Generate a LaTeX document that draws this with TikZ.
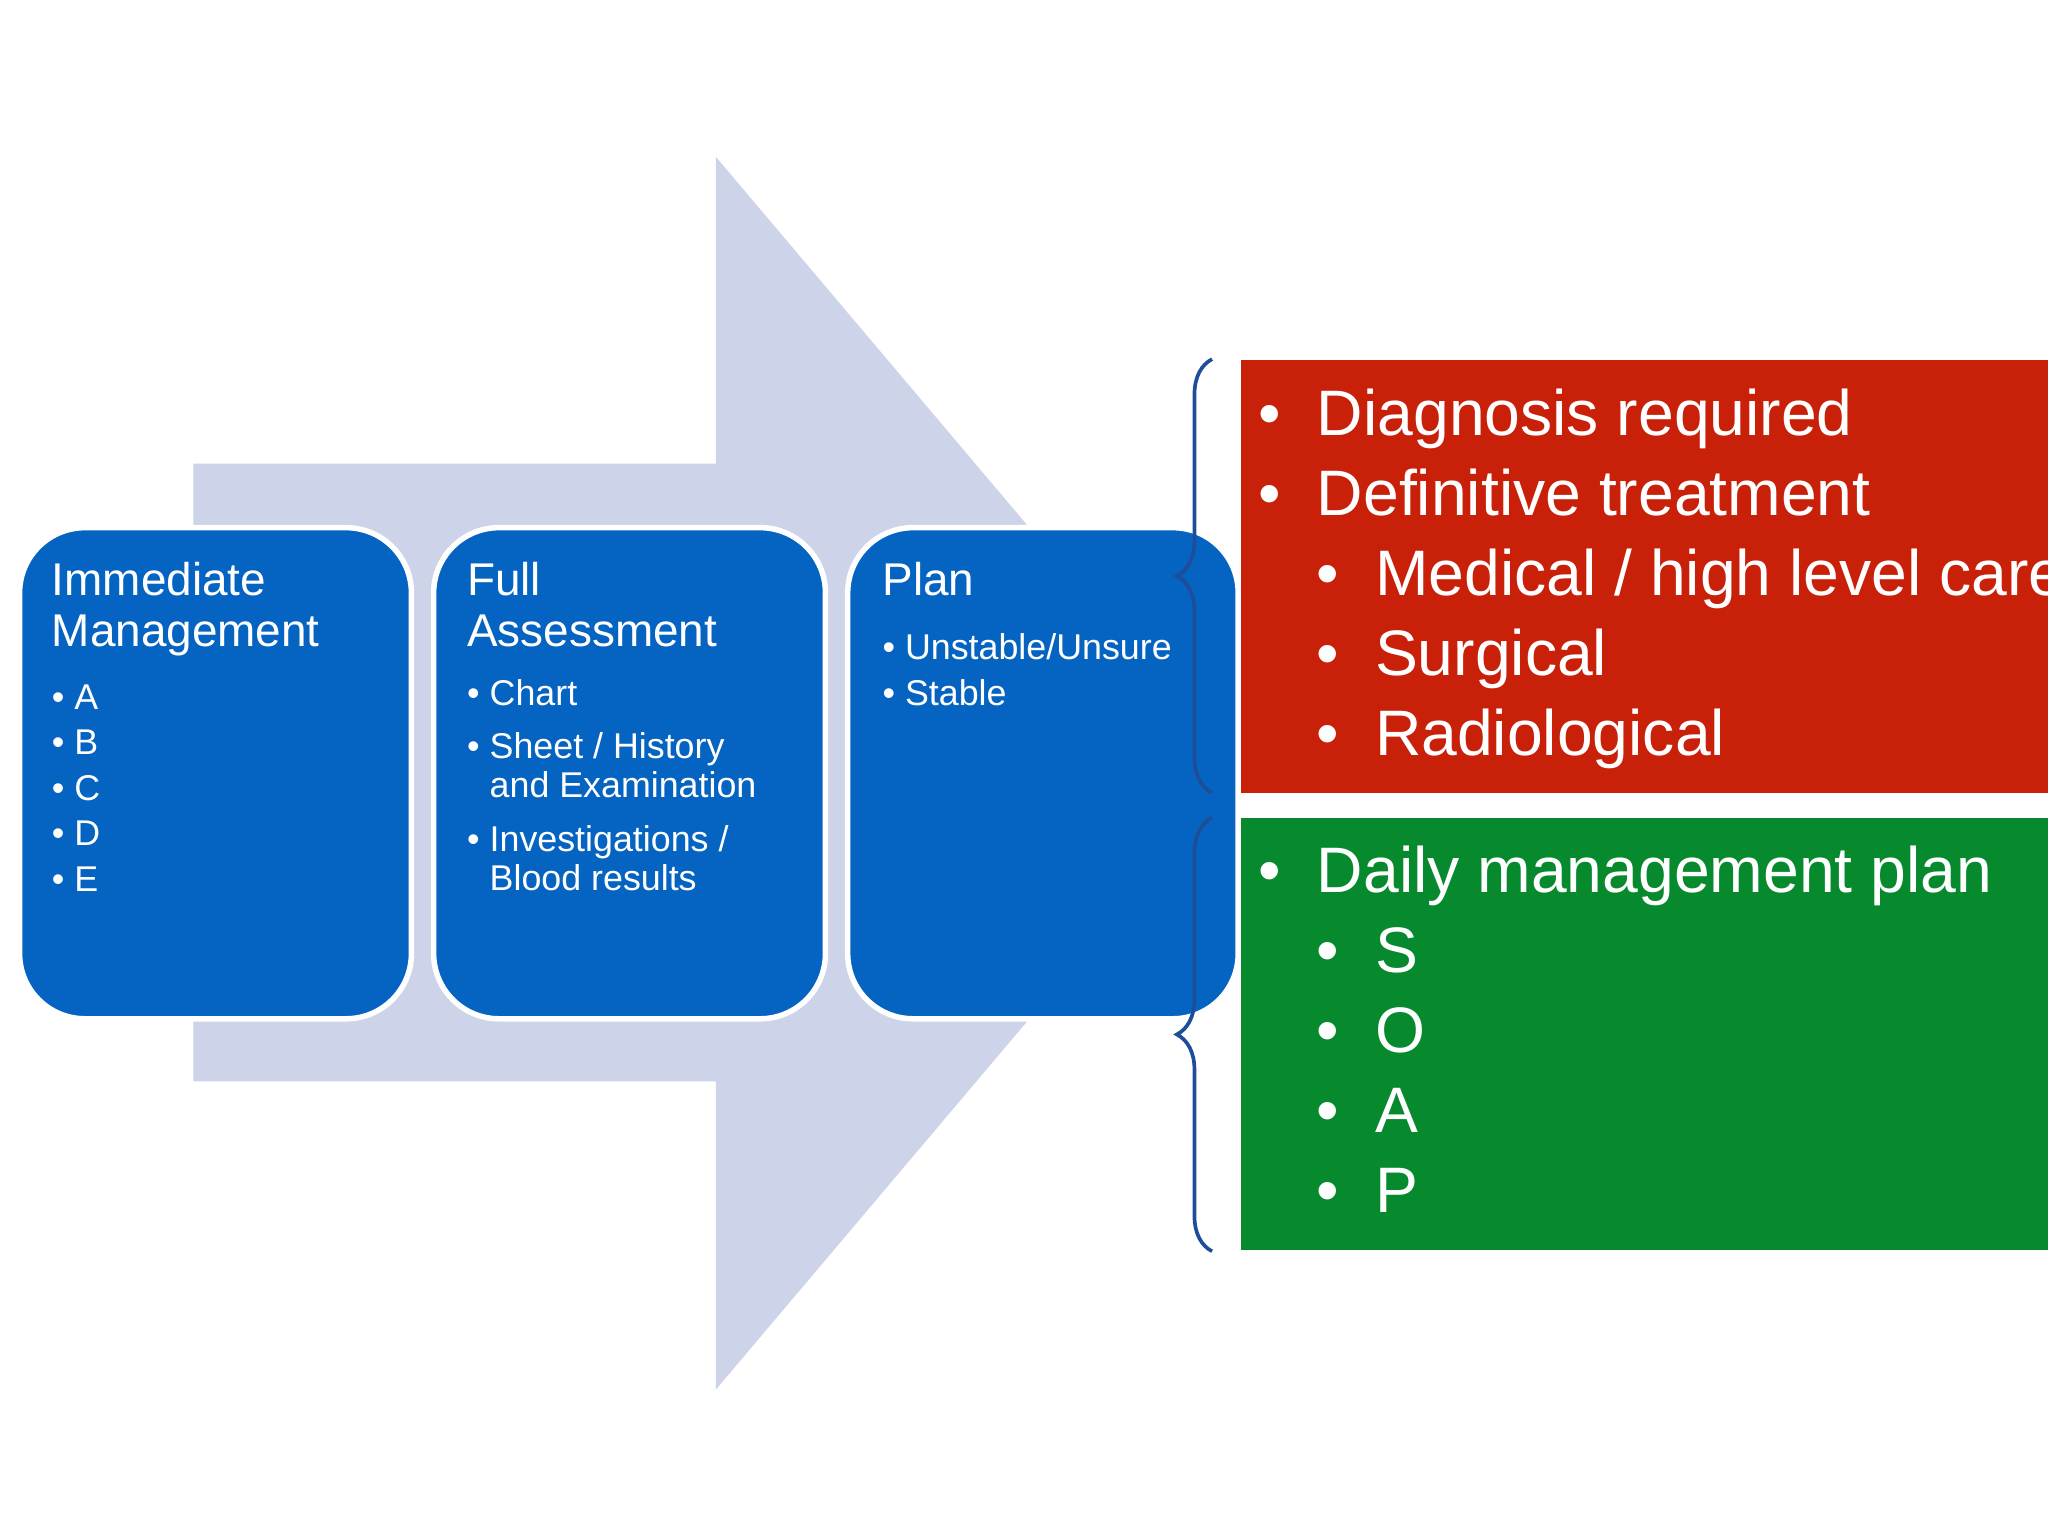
\documentclass[tikz,border=0pt]{standalone}
\usepackage{fontspec}
\setmainfont{Liberation Sans}
\usetikzlibrary{decorations.pathreplacing}
\definecolor{shaftgray}{HTML}{CDD3E8}
\definecolor{stepblue}{HTML}{0563C1}
\definecolor{bracered}{HTML}{C9200A}
\definecolor{bracegreen}{HTML}{078A2E}
\definecolor{bracedark}{HTML}{1F4E99}
\tikzstyle{stepbox}=[draw=white, line width=1.2pt, fill=stepblue, rounded corners=0.5cm]
\tikzstyle{steptitle}=[anchor=north west, inner sep=0pt, text=white, align=left, font=\fontsize{10}{11}\selectfont]
\tikzstyle{steptext}=[anchor=north west, inner sep=0pt, text=white, font=\fontsize{7.8}{9.9}\selectfont]
\tikzstyle{bigtext}=[anchor=north west, inner sep=0pt, text=white, font=\fontsize{14}{17.4}\selectfont]
\tikzstyle{curly}=[draw=bracedark, line width=0.8pt, decorate, decoration={brace, mirror, amplitude=0.27cm, aspect=0.5}]
\begin{document}
\begin{tikzpicture}
 \useasboundingbox (0,0) rectangle (15.68,-11.76);
 % big arrow behind the steps
 \fill[shaftgray] (1.48,-3.55) -- (5.48,-3.55) -- (5.48,-1.2) -- (9.47,-5.92)
  -- (5.48,-10.64) -- (5.48,-8.28) -- (1.48,-8.28) -- cycle;
 %
 \draw[stepbox] (0.15,-4.04) rectangle (3.15,-7.8);
 \draw[stepbox] (3.32,-4.04) rectangle (6.32,-7.8);
 \draw[stepbox] (6.49,-4.04) rectangle (9.48,-7.8);
 %
 \node[steptitle] (immediate) at (0.39,-4.3) {Immediate\\Management};
 \node[steptext] (abcde) at (0.39,-5.18) {\begin{tabular}{@{}l@{\ }l@{}}\textbullet&A\\ \textbullet&B\\ \textbullet&C\\ \textbullet&D\\ \textbullet&E\end{tabular}};
 \node[steptitle] (assessment) at (3.57,-4.3) {Full\\Assessment};
 \node[steptext, font=\fontsize{7.8}{8.6}\selectfont] (items) at (3.57,-5.18) {\begin{tabular}{@{}l@{\ }l@{}}\textbullet&Chart\\[3pt] \textbullet&Sheet / History\\ &and Examination\\[3pt] \textbullet&Investigations /\\ &Blood results\end{tabular}};
 \node[steptitle] (plan) at (6.75,-4.3) {Plan};
 \node[steptext] (stability) at (6.75,-4.8) {\begin{tabular}{@{}l@{\ }l@{}}\textbullet&Unstable/Unsure\\ \textbullet&Stable\end{tabular}};
 %
 \fill[bracered] (9.5,-2.76) rectangle (15.68,-6.07);
 \fill[bracegreen] (9.5,-6.26) rectangle (15.68,-9.57);
 \node[bigtext] (definitive) at (9.63,-2.9) {\begin{tabular}{@{}l@{\ \ }l@{\ \ }l@{}}
  \textbullet&\multicolumn{2}{@{}l}{Diagnosis required}\\
  \textbullet&\multicolumn{2}{@{}l}{Definitive treatment}\\
  &\textbullet&Medical / high level care\\
  &\textbullet&Surgical\\
  &\textbullet&Radiological\end{tabular}};
 \node[bigtext] (daily) at (9.63,-6.4) {\begin{tabular}{@{}l@{\ \ }l@{\ \ }l@{}}
  \textbullet&\multicolumn{2}{@{}l}{Daily management plan}\\
  &\textbullet&S\\ &\textbullet&O\\ &\textbullet&A\\ &\textbullet&P\end{tabular}};
 %
 \coordinate (redtop) at (9.28,-2.75);
 \coordinate (redbot) at (9.28,-6.07);
 \coordinate (greentop) at (9.28,-6.26);
 \coordinate (greenbot) at (9.28,-9.58);
 \draw[curly] (redtop) -- (redbot);
 \draw[curly] (greentop) -- (greenbot);
\end{tikzpicture}
\end{document}
